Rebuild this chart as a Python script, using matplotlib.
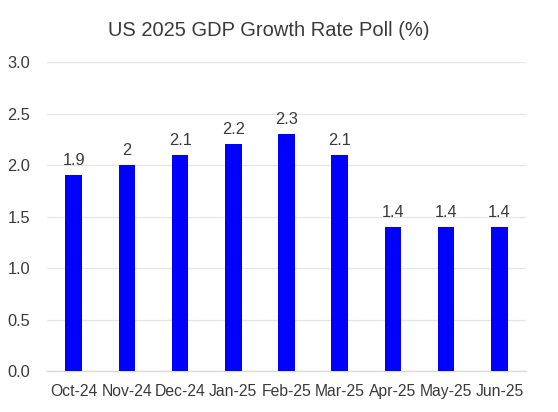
import matplotlib
matplotlib.use("Agg")
import matplotlib.pyplot as plt
import numpy as np

months = ["Oct-24", "Nov-24", "Dec-24", "Jan-25", "Feb-25", "Mar-25", "Apr-25", "May-25", "Jun-25"]
growth = [1.9, 2.0, 2.1, 2.2, 2.3, 2.1, 1.4, 1.4, 1.4]
labels = ["1.9", "2", "2.1", "2.2", "2.3", "2.1", "1.4", "1.4", "1.4"]

plt.rcParams["font.family"] = ["Liberation Sans", "DejaVu Sans"]
text_color = "#3a3a3a"

fig = plt.figure(figsize=(5.58, 4.12), dpi=100)
ax = fig.add_axes([0.0842, 0.0995, 0.8585, 0.75])

x = np.arange(len(months))
bars = ax.bar(x, growth, width=0.31, color="#0000FF", zorder=3)
for b, lab in zip(bars, labels):
    ax.annotate(lab, (b.get_x() + b.get_width() / 2, b.get_height()),
                xytext=(0, 5), textcoords="offset points",
                ha="center", va="bottom", fontsize=11.8, color=text_color)

ax.set_xlim(-0.5, len(months) - 0.5)
ax.set_ylim(0, 3.0)
ax.set_yticks(np.arange(0, 3.01, 0.5))
ax.set_yticklabels([f"{v:.1f}" for v in np.arange(0, 3.01, 0.5)])
ax.set_xticks(x)
ax.set_xticklabels(months)
ax.tick_params(axis="both", length=0, labelsize=11.8, labelcolor=text_color)
ax.tick_params(axis="x", labelsize=11.3)
ax.tick_params(axis="y", pad=12)
ax.tick_params(axis="x", pad=9)

ax.grid(axis="y", color="#e6e6e6", linewidth=1, zorder=0)
for s in ["top", "right", "left"]:
    ax.spines[s].set_visible(False)
ax.spines["bottom"].set_color("#d9d9d9")
ax.spines["bottom"].set_linewidth(1)

fig.text(0.482, 0.927, "US 2025 GDP Growth Rate Poll (%)", ha="center", va="center",
         fontsize=14.5, color=text_color)

fig.savefig("out.png", dpi=100)
